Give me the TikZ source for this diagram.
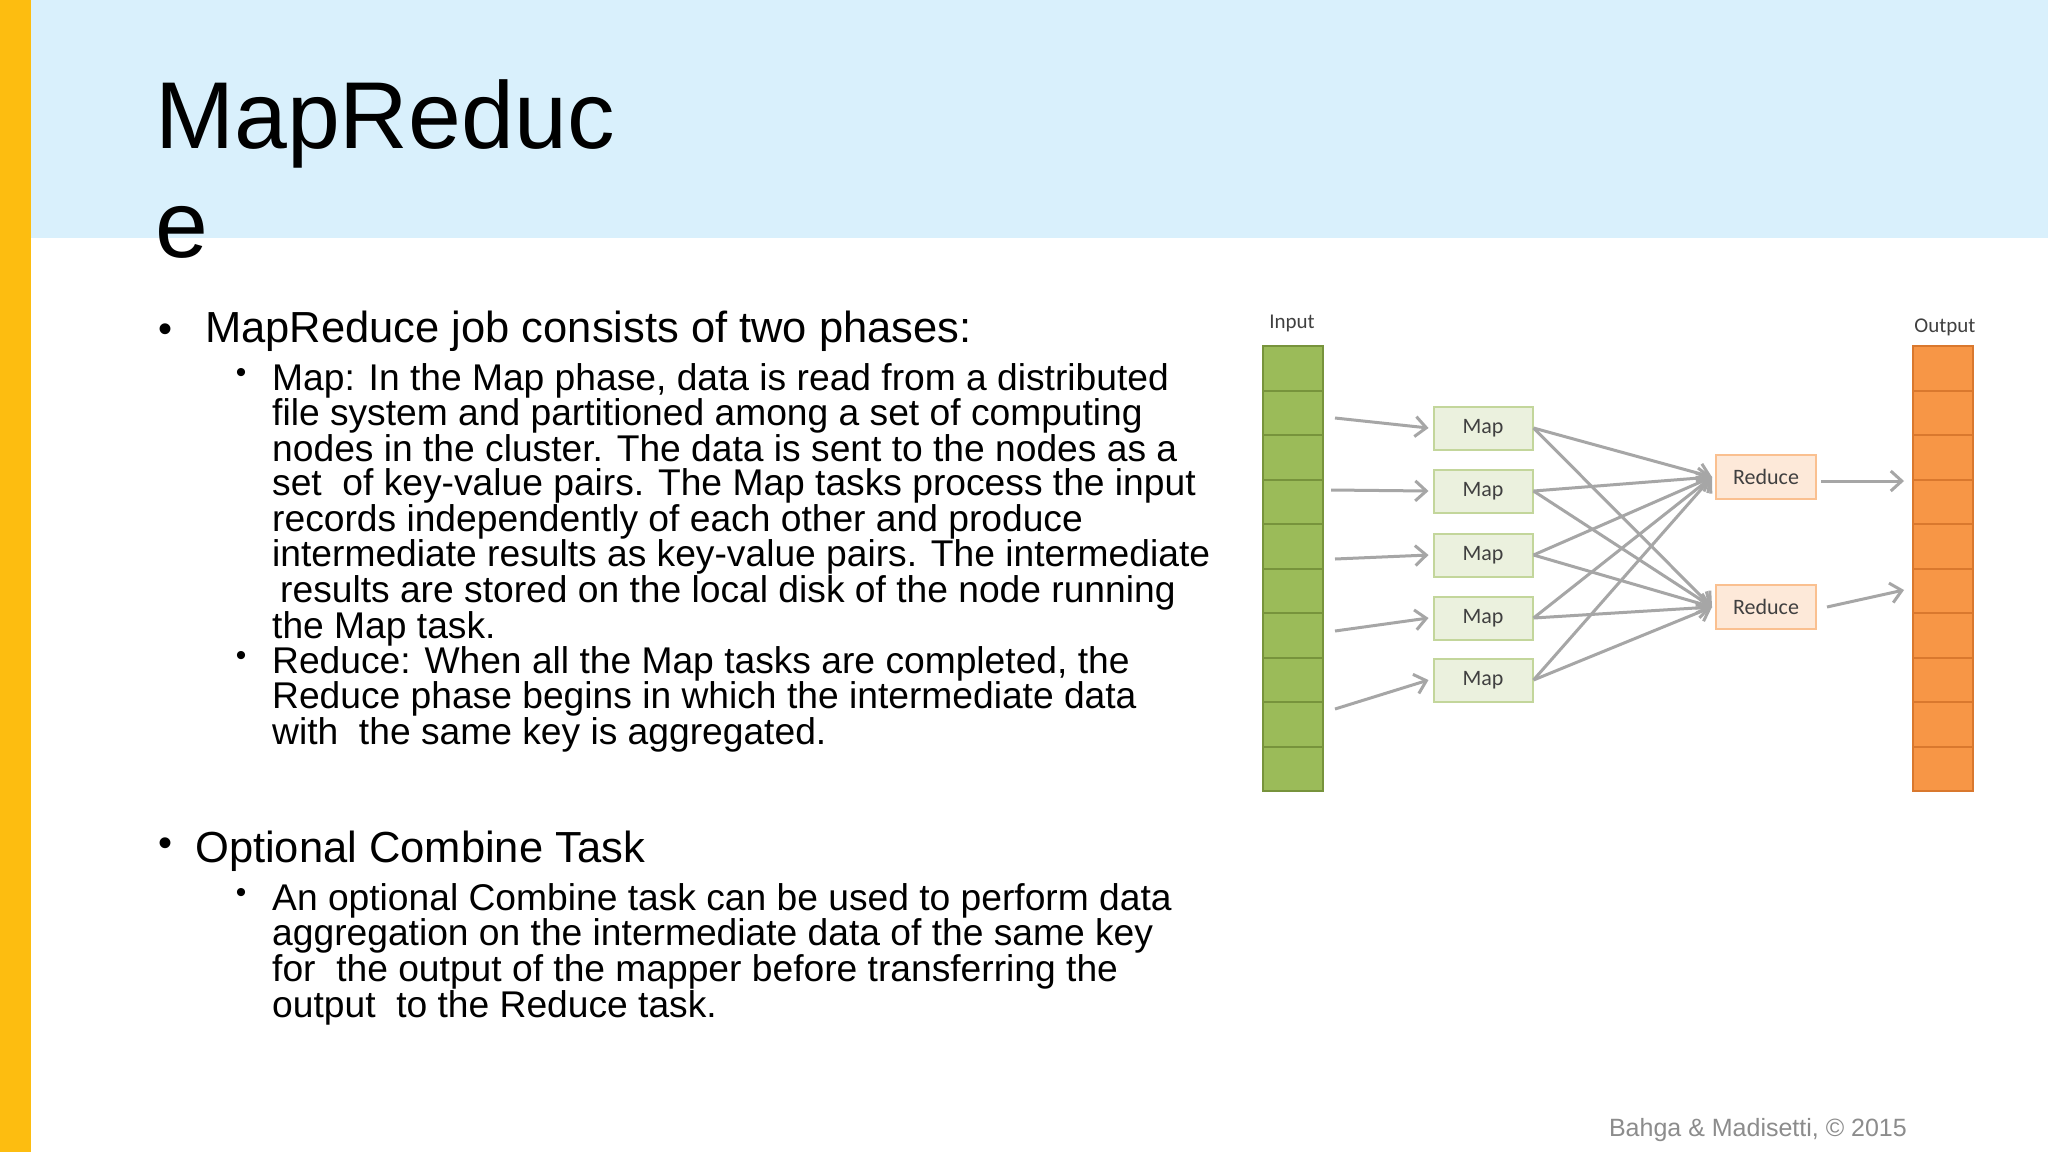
\documentclass[tikz,border=0pt]{standalone}
\usepackage{fontspec}
\setmainfont{Liberation Sans}
\newfontfamily\diagfont{Carlito}
\newfontfamily\bodyfont{Liberation Sans}
\usetikzlibrary{arrows.meta}
\definecolor{yellowbar}{HTML}{FDBD10}
\definecolor{hdr}{HTML}{D9F0FC}
\definecolor{ingreen}{HTML}{9BBB59}
\definecolor{ingreenD}{HTML}{77933C}
\definecolor{outor}{HTML}{F79646}
\definecolor{outorD}{HTML}{D9782E}
\definecolor{mapfill}{HTML}{EBF1DE}
\definecolor{mapdraw}{HTML}{C3D69B}
\definecolor{redfill}{HTML}{FDE9D9}
\definecolor{reddraw}{HTML}{FAC090}
\definecolor{arr}{HTML}{A6A6A6}
\tikzset{
 body/.style={anchor=base west,inner sep=0,font=\bodyfont\fontsize{37.2}{34}\selectfont},
 bul/.style={anchor=base,inner sep=0,font=\fontsize{40}{40}\selectfont},
 mapbox/.style={draw=mapdraw,fill=mapfill,line width=2pt,minimum width=99pt,minimum height=43pt,font=\diagfont\fontsize{22}{22}\selectfont,text=black!75},
 redbox/.style={draw=reddraw,fill=redfill,line width=2pt,minimum width=100pt,minimum height=44pt,font=\diagfont\fontsize{22}{22}\selectfont,text=black!75},
 ar/.style={draw=arr,line width=3pt,-{Straight Barb[length=11pt,width=20pt,line width=3pt]}},
 lbl/.style={font=\diagfont\fontsize{21}{21}\selectfont,text=black!75,inner sep=0}
}
\begin{document}
\begin{tikzpicture}[x=1pt,y=-1pt]
\useasboundingbox (0,0) rectangle (2048,1152);
\fill[white] (0,0) rectangle (2048,1152);
\fill[hdr] (31,0) rectangle (2048,238);
\fill[yellowbar] (0,0) rectangle (31,1152);
% title
\node[anchor=base west,inner sep=0,font=\fontsize{95}{95}\selectfont] (t1) at (155,148) {MapReduc};
\node[anchor=base west,inner sep=0,font=\fontsize{95}{95}\selectfont] (t2) at (155,257) {e};
% bullets
\node[bul] (b1) at (166,342) {•};
\node[body,font=\bodyfont\fontsize{43.5}{43}\selectfont] (p1) at (205,342) {MapReduce job consists of two phases:};
\node[bul,font=\fontsize{30}{30}\selectfont] (s1) at (241,382) {•};
\node[body] (p2) at (272,390) {\parbox[t]{1000pt}{Map: In the Map phase, data is read from a distributed\\
file system and partitioned among a set of computing\\
nodes in the cluster. The data is sent to the nodes as a\\
set\ \ of key-value pairs. The Map tasks process the input\\
records independently of each other and produce\\
intermediate results as key-value pairs. The intermediate\\
\hspace*{8pt}results are stored on the local disk of the node running\\
the Map task.}};
\node[bul,font=\fontsize{30}{30}\selectfont] (s2) at (241,665) {•};
\node[body] (p3) at (272,673) {\parbox[t]{1000pt}{Reduce: When all the Map tasks are completed, the\\
Reduce phase begins in which the intermediate data\\
with\ \ the same key is aggregated.}};
\node[bul] (b2) at (166,856) {•};
\node[body,font=\bodyfont\fontsize{43.5}{43}\selectfont] (p4) at (195,862) {Optional Combine Task};
\node[bul,font=\fontsize{30}{30}\selectfont] (s3) at (241,902) {•};
\node[body] (p5) at (272,910) {\parbox[t]{1000pt}{An optional Combine task can be used to perform data\\
aggregation on the intermediate data of the same key\\
for\ \ the output of the mapper before transferring the\\
output\ \ to the Reduce task.}};
\node[anchor=base east,inner sep=0,font=\fontsize{25}{25}\selectfont,text=black!45] (ft) at (1907,1136) {Bahga \& Madisetti, © 2015};
% diagram bars
\foreach \i in {0,...,9}{
 \draw[draw=ingreenD,fill=ingreen,line width=2pt] (1263,{346+\i*44.5}) rectangle (1323,{346+(\i+1)*44.5});
 \draw[draw=outorD,fill=outor,line width=2pt] (1913,{346+\i*44.5}) rectangle (1973,{346+(\i+1)*44.5});
}
\node[lbl] (lin) at (1292,323) {Input};
\node[lbl] (lout) at (1945,327) {Output};
% maps
\node[mapbox] (m1) at (1483,428) {Map};
\node[mapbox] (m2) at (1483,491) {Map};
\node[mapbox] (m3) at (1483,555) {Map};
\node[mapbox] (m4) at (1483,618) {Map};
\node[mapbox] (m5) at (1483,680) {Map};
\node[redbox] (r1) at (1766,477) {Reduce};
\node[redbox] (r2) at (1766,607) {Reduce};
% input arrows
\coordinate (i1) at (1335,418);
\coordinate (i2) at (1331,490);
\coordinate (i3) at (1335,559);
\coordinate (i4) at (1335,631);
\coordinate (i5) at (1335,709);
\foreach \k in {1,...,5}{\draw[ar] (i\k) -- ([xshift=-4pt]m\k.west);}
\foreach \k in {1,...,5}{
 \draw[ar] (m\k.east) -- ([xshift=-3pt]r1.west);
 \draw[ar] (m\k.east) -- ([xshift=-3pt]r2.west);
}
\coordinate (o1) at (1904,481);
\coordinate (o2) at (1904,590);
\draw[ar] ([xshift=4pt,yshift=-4pt]r1.east) -- (o1);
\draw[ar] ([xshift=10pt]r2.east) -- (o2);
\end{tikzpicture}
\end{document}
